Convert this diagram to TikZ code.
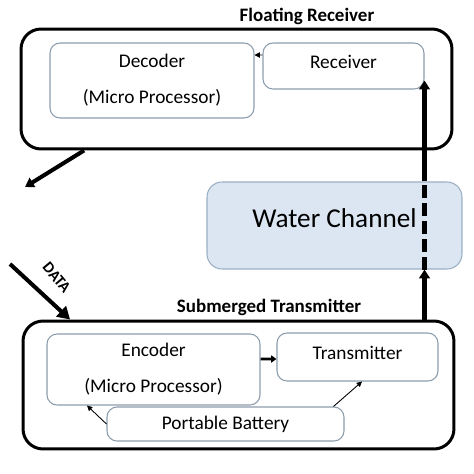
\documentclass[tikz,border=0pt]{standalone}
\usepackage{fontspec}
\setmainfont{Carlito}
\usetikzlibrary{arrows.meta}
\definecolor{boxline}{HTML}{8C9CAC}
\definecolor{waterfill}{HTML}{DCE6F2}
\definecolor{waterline}{HTML}{9AAFC4}
\begin{document}
\begin{tikzpicture}[x=0.02cm, y=-0.02cm, outer/.style={draw,line width=1.7pt,rounded corners=0.4cm}, inner/.style={draw=boxline,line width=0.6pt,rounded corners=0.2cm,font=\fontsize{11}{20.5}\selectfont,align=center}, water/.style={draw=waterline,fill=waterfill,line width=0.6pt,rounded corners=0.3cm,font=\fontsize{15.5}{17}\selectfont}, title/.style={font=\fontsize{10.8}{12}\selectfont\bfseries}, heavy/.style={line width=2.3pt,-{Triangle[length=5pt,width=6pt]}}, lite/.style={line width=0.5pt,-{Triangle[length=3pt,width=3pt]}}]
      \useasboundingbox (0,0) rectangle (474,474);

      \node[outer, minimum width=8.62cm, minimum height=2.4cm]  (float) at (236.5, 89) {};
      \node[inner, minimum width=4.08cm, minimum height=1.5cm]  (dec)   at (152, 80.5) {Decoder\\(Micro Processor)};
      \node[inner, minimum width=3.22cm, minimum height=0.92cm, text depth=0.16cm] (recv) at (343.5, 66) {Receiver};
      \node[title] (ftitle) at (307, 16) {Floating Receiver};

      \node[water, minimum width=5.1cm, minimum height=1.74cm, text depth=0.3cm] (water) at (334.5, 225.5) {Water Channel};

      \node[outer, minimum width=8.62cm, minimum height=2.56cm] (sub) at (238.5, 385) {};
      \node[inner, minimum width=4.26cm, minimum height=1.42cm] (enc) at (153.5, 369.5) {Encoder\\(Micro Processor)};
      \node[inner, minimum width=3.22cm, minimum height=0.96cm, text depth=0.18cm] (tx)  at (357.5, 357) {Transmitter};
      \node[inner, minimum width=4.74cm, minimum height=0.68cm] (bat) at (225.5, 424) {Portable Battery};
      \node[title] (stitle) at (269, 307) {Submerged Transmitter};

      % free ends
      \coordinate (out)  at (25, 187);
      \coordinate (data) at (10, 264);

      \draw[lite] ([yshift=0.22cm]recv.west) -- ([yshift=0.51cm]dec.east);
      \draw[heavy] ([xshift=-3.05cm]float.south) -- (out);
      \draw[line width=2.3pt,-{Triangle[length=7pt,width=8pt]}] (data) -- ([xshift=-3.37cm]sub.north) node [midway, rotate=-50, above=5pt, font=\fontsize{9}{10}\selectfont\bfseries] (lbl) {DATA};

      % link through the channel
      \draw[heavy] (sub.north -| recv.east) -- (water.south -| recv.east);
      \draw[line width=2.3pt, dash pattern=on 0.26cm off 0.1cm] (water.south -| recv.east) -- (water.north -| recv.east);
      \draw[heavy] (water.north -| recv.east) -- ([yshift=0.18cm]recv.south east);

      \draw[line width=1.6pt,-{Triangle[length=3pt,width=4pt]}] ([yshift=0.21cm]enc.east) -- ([yshift=-0.04cm]tx.west);
      \draw[lite] (bat.west) -- ([xshift=-1.33cm]enc.south);
      \draw[lite] ([xshift=-0.22cm]bat.north east) -- ([xshift=0.09cm]tx.south);
    \end{tikzpicture}
\end{document}
